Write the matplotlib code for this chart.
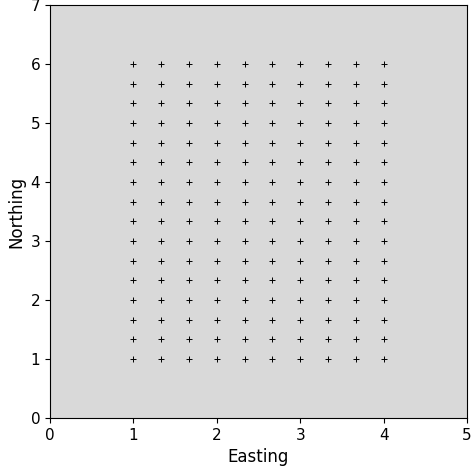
import numpy as np
import matplotlib.pyplot as plt

# grid of sample locations
easting = [1.0, 1.333, 1.667, 2.0, 2.333, 2.667, 3.0, 3.333, 3.667, 4.0]
northing = [1.0, 1.333, 1.667, 2.0, 2.333, 2.667, 3.0, 3.333, 3.667, 4.0,
            4.333, 4.667, 5.0, 5.333, 5.667, 6.0]

xx, yy = np.meshgrid(easting, northing)

fig = plt.figure(figsize=(4.74, 4.67), dpi=100)
ax = fig.add_axes([50 / 474, 49 / 467, 417 / 474, 413 / 467])
ax.set_facecolor("#d9d9d9")
ax.scatter(xx.ravel(), yy.ravel(), marker="+", s=18, c="black", linewidths=0.7)
ax.set_xlim(0, 5)
ax.set_ylim(0, 7)
ax.set_xticks(range(6))
ax.set_yticks(range(8))
ax.tick_params(direction="out", labelsize=11)
ax.set_xlabel("Easting", fontsize=12)
ax.set_ylabel("Northing", fontsize=12)

fig.savefig("out.png", dpi=100)
